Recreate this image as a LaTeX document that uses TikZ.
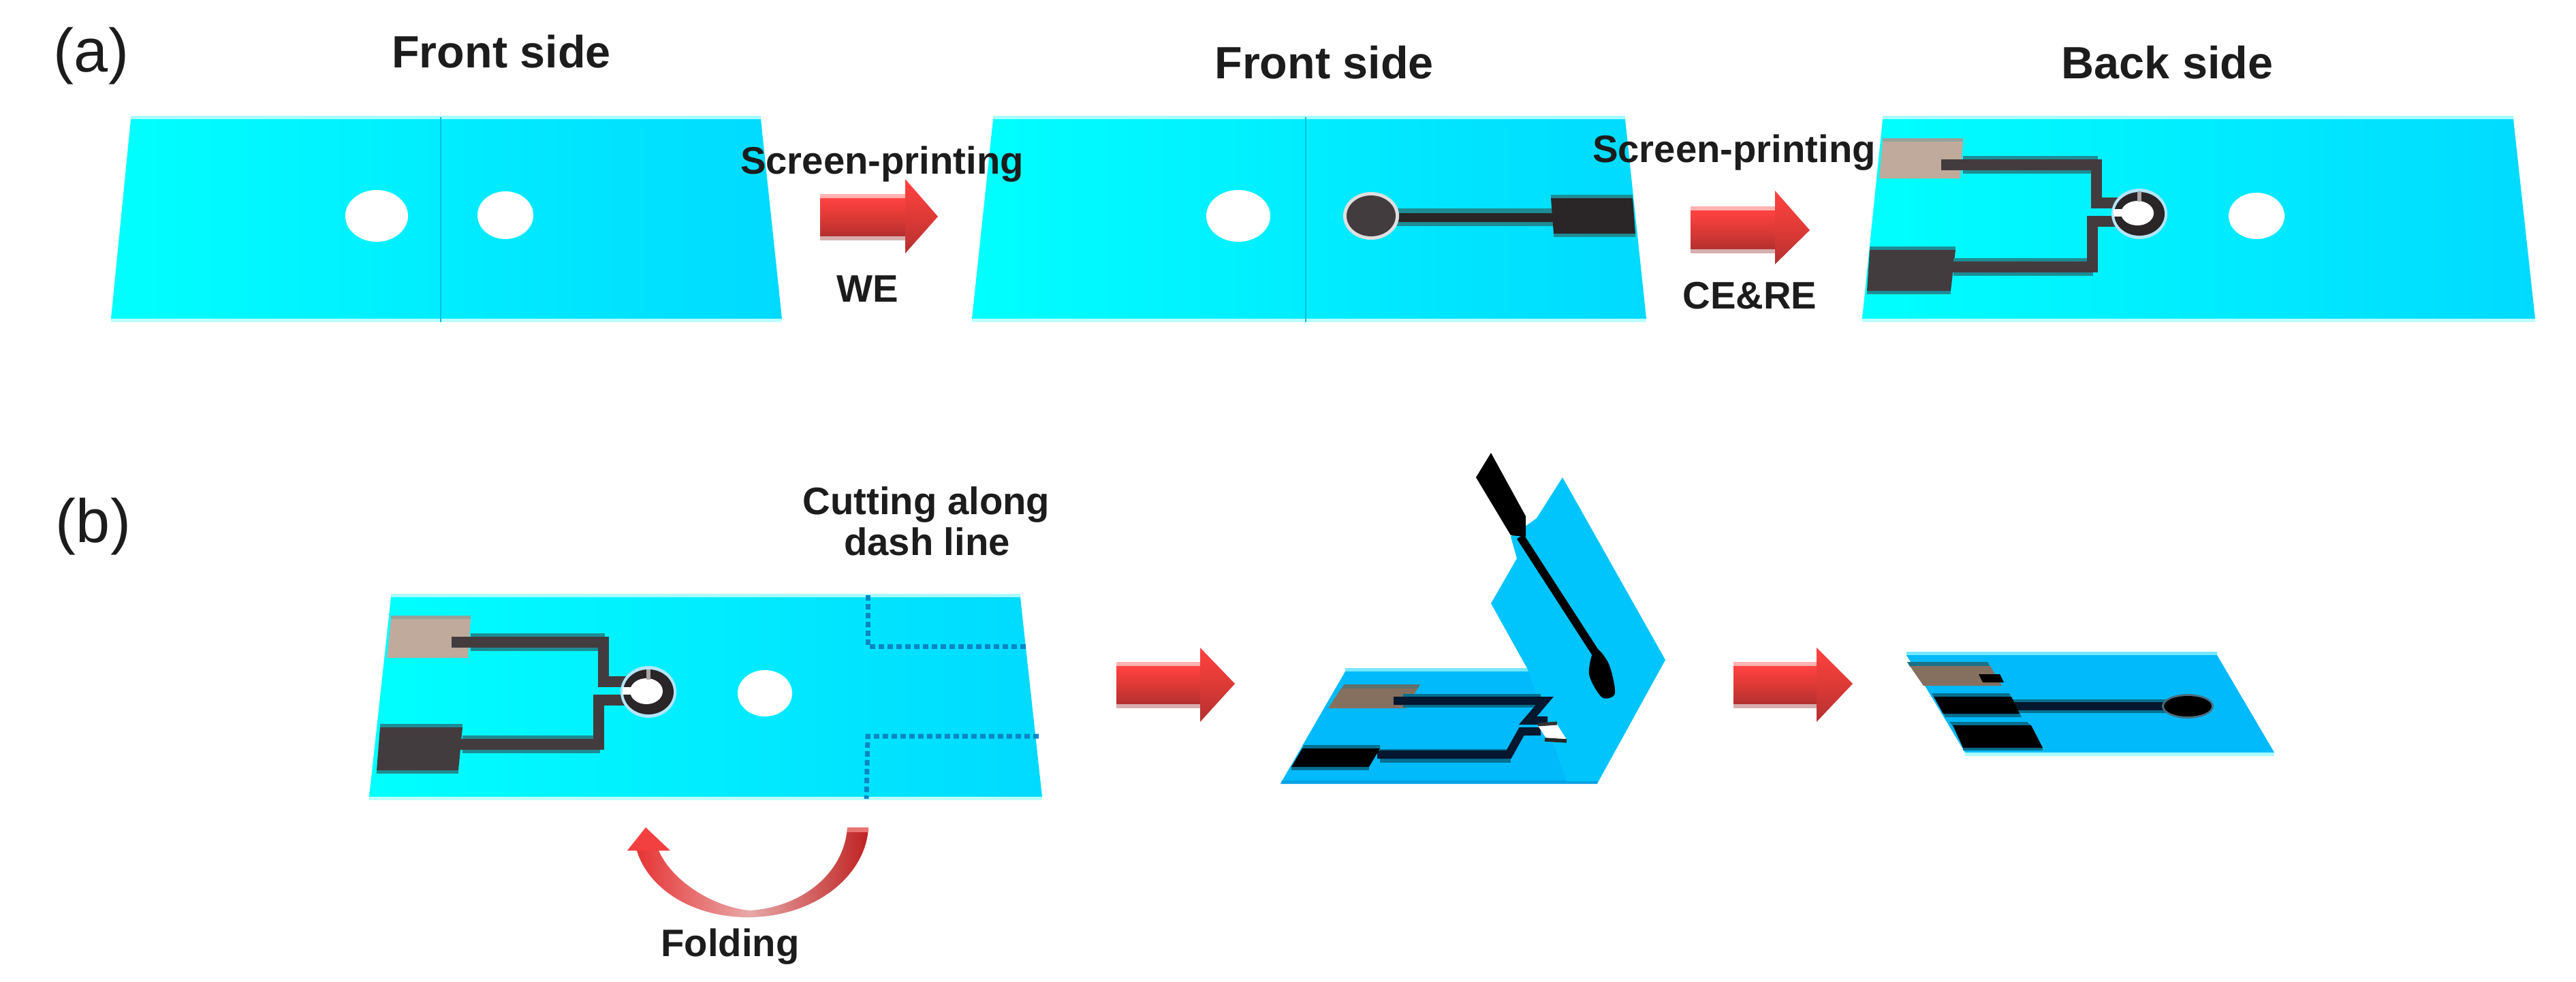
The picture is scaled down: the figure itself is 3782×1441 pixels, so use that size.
\documentclass[tikz,border=0pt]{standalone}
\usepackage{fontspec}
\setmainfont{Liberation Sans}
\definecolor{cyanL}{HTML}{00FFFF}
\definecolor{cyanM}{HTML}{00F2FF}
\definecolor{cyanR}{HTML}{00DAFF}
\definecolor{foldline}{HTML}{00BCE6}
\definecolor{edgeTop}{HTML}{A8FCFF}
\definecolor{edgeBot}{HTML}{BCFFFF}
\definecolor{tanpad}{HTML}{BFAA9C}
\definecolor{darkpad}{HTML}{433C3E}
\definecolor{wepad}{HTML}{2A2526}
\definecolor{tealhalo}{HTML}{1E8C94}
\definecolor{cutdash}{HTML}{0A86C4}
\definecolor{sheetA}{HTML}{00BAFB}
\definecolor{sheetB}{HTML}{00C5FD}
\definecolor{brownpad}{HTML}{85705F}
\definecolor{inktrace}{HTML}{03172E}
\definecolor{inkhalo}{HTML}{05708F}
\definecolor{arrowtop}{HTML}{FF4242}
\definecolor{arrowmid}{HTML}{DE3A36}
\definecolor{arrowbot}{HTML}{B43030}
\definecolor{foldfade}{HTML}{E8A8A8}
\definecolor{folddark}{HTML}{B81E1E}
\definecolor{foldred}{HTML}{E63434}
\definecolor{txt}{HTML}{1C1C1C}
\tikzset{
  x=0.01cm,y=-0.01cm,
  titletext/.style={anchor=base,inner sep=0pt,text=txt,font=\fontsize{18.9}{20}\selectfont\bfseries},
  steptext/.style={anchor=base,inner sep=0pt,text=txt,font=\fontsize{16}{18}\selectfont\bfseries},
  paneltext/.style={anchor=base,inner sep=0pt,text=txt,font=\fontsize{25.6}{28}\selectfont},
  trace/.style={draw=darkpad,line width=0.16cm,line join=miter},
  halo/.style={draw=tealhalo,line width=0.26cm},
  inkline/.style={draw=inktrace,line width=0.12cm,line join=miter},
  inkglow/.style={draw=inkhalo,line width=0.2cm},
  cutline/.style={draw=cutdash,line width=0.07cm,dash pattern=on 0.08cm off 0.05cm},
  hole/.style={fill=white,draw=none},
}
% sheet: top-left x, top-right x, bottom-right x, bottom-left x, top y, bottom y
\newcommand{\cyansheet}[6]{%
  \path[left color=cyanL,middle color=cyanM,right color=cyanR] (#1,#5) -- (#2,#5) -- (#3,#6) -- (#4,#6) -- cycle;
  \fill[edgeTop] (#1,#5-5) -- (#2,#5-5) -- (#2,#5) -- (#1,#5) -- cycle;
  \fill[edgeBot] (#4,#6) -- (#3,#6) -- (#3,#6+5) -- (#4,#6+5) -- cycle;
}
% open ring: centre x, centre y, x radius (cm) and y radius (cm) of the dark ring
\newcommand{\openring}[4]{%
  \fill[white!70!cyan] (#1,#2) ellipse [x radius=#3cm+0.04cm,y radius=#4cm+0.05cm];
  \fill[wepad] (#1,#2) ellipse [x radius=#3cm,y radius=#4cm];
  \fill[white] (#1-3,#2-1) ellipse [x radius=#3cm-0.13cm,y radius=#4cm-0.14cm];
  \fill[white] (#1-38,#2-7) rectangle (#1-10,#2+4);
  \fill[white!55!darkpad] (#1-3,#2-33) rectangle (#1+3,#2-18);
}
% red arrow: shaft left, head x, tip x, shaft top, shaft bottom, head top, head bottom, tip y
\newcommand{\redarrow}[8]{%
  \fill[red!30!white] (#1,#4) rectangle (#2,#4+6);
  \fill[arrowbot!35!white!85!gray] (#1,#5-7) rectangle (#2,#5);
  \path[top color=arrowtop,bottom color=arrowbot,middle color=arrowmid] (#1,#4+6) rectangle (#2+1,#5-7);
  \path[top color=arrowtop,bottom color=arrowmid] (#2,#6) -- (#3,#8) -- (#2,#8) -- cycle;
  \path[top color=arrowmid,bottom color=arrowbot] (#2,#8) -- (#3,#8) -- (#2,#7) -- cycle;
}
\begin{document}
\begin{tikzpicture}
\useasboundingbox (0,0) rectangle (3782,1441);
\fill[white] (0,0) rectangle (3782,1441);

% ---- panel (a), sheet 1
\cyansheet{192}{1117}{1148}{163}{175}{468}
\draw[foldline,line width=0.025cm] (647,172) -- (647,473);
\fill[hole] (553,317) ellipse [x radius=0.46cm,y radius=0.38cm];
\fill[hole] (742,316) ellipse [x radius=0.41cm,y radius=0.35cm];

% ---- panel (a), sheet 2
\cyansheet{1458}{2386}{2417}{1427}{175}{468}
\draw[foldline,line width=0.025cm] (1917,172) -- (1917,473);
\fill[hole] (1818,317) ellipse [x radius=0.47cm,y radius=0.38cm];
\draw[halo] (2040,319) -- (2290,319);
\draw[wepad,line width=0.13cm] (2040,319) -- (2285,319);
\fill[tealhalo] (2277,286) -- (2397,286) -- (2397,292) -- (2277,292) -- cycle;
\fill[tealhalo] (2281,342) -- (2401,342) -- (2401,348) -- (2281,348) -- cycle;
\fill[wepad] (2277,291) -- (2397,291) -- (2401,343) -- (2281,343) -- cycle;
\fill[white!75!gray] (2013,317) ellipse [x radius=0.41cm,y radius=0.35cm];
\fill[darkpad] (2013,317) ellipse [x radius=0.36cm,y radius=0.30cm];

% ---- panel (a), sheet 3
\cyansheet{2764}{3690}{3722}{2734}{175}{468}
\fill[hole] (3313,317) ellipse [x radius=0.41cm,y radius=0.34cm];
\fill[tanpad!75!tealhalo] (2764,203) rectangle (2882,209);
\fill[tanpad] (2764,208) -- (2882,208) -- (2878,262) -- (2759,262) -- cycle;
\fill[tealhalo] (2745,362) rectangle (2871,368);
\fill[tealhalo] (2741,426) rectangle (2864,432);
\fill[darkpad] (2745,367) -- (2871,367) -- (2864,427) -- (2741,427) -- cycle;
\draw[halo] (2882,242) -- (3080,242);
\draw[halo] (2868,392) -- (3073,392);
\draw[trace] (2850,242) -- (3078,242) -- (3078,297.5) -- (3115,297.5);
\draw[trace] (2866,392) -- (3072,392) -- (3072,325) -- (3115,325);
\openring{3141}{314}{0.37}{0.32}

% ---- panel (b), sheet 1
\cyansheet{574}{1498}{1530}{542}{877}{1170}
\fill[tanpad!75!tealhalo] (574,904) rectangle (691,910);
\fill[tanpad] (574,909) -- (691,909) -- (687,966) -- (568,966) -- cycle;
\fill[tealhalo] (558,1063) rectangle (679,1069);
\fill[tealhalo] (553,1130) rectangle (673,1136);
\fill[darkpad] (558,1068) -- (679,1068) -- (673,1131) -- (553,1131) -- cycle;
\draw[halo] (691,943) -- (888,943);
\draw[halo] (679,1093) -- (881,1093);
\draw[trace] (663,943) -- (886,943) -- (886,1001) -- (928,1001);
\draw[trace] (675,1093) -- (879,1093) -- (879,1028) -- (928,1028);
\openring{952}{1016}{0.37}{0.33}
\fill[hole] (1123,1018) ellipse [x radius=0.40cm,y radius=0.34cm];
\draw[cutline] (1274,874) -- (1274,949) -- (1510,949);
\draw[cutline] (1525,1081) -- (1274,1081) -- (1272,1173);

% ---- panel (b), folding arrow
\path[left color=foldfade,middle color=folddark,right color=folddark!85!foldred]
  (1275,1215) .. controls (1272,1280) and (1205,1345) .. (1100,1347)
  -- (1100,1337) .. controls (1180,1332) and (1240,1280) .. (1244,1215) -- cycle;
\fill[arrowmid!70!white] (1244,1215) rectangle (1275,1222);
\path[left color=foldred,middle color=folddark!50!foldred,right color=foldfade]
  (935,1249) .. controls (950,1300) and (1010,1347) .. (1100,1347)
  -- (1100,1337) .. controls (1040,1330) and (985,1290) .. (967,1249) -- cycle;
\fill[arrowtop!95!black] (948,1215) -- (984,1249) -- (921,1249) -- cycle;

% ---- panel (b), sheet 2: lower leaf, then raised leaf
\fill[edgeTop!70!sheetA] (1975,981) -- (2245,981) -- (2245,988) -- (1975,988) -- cycle;
\fill[sheetA] (1975,986) -- (2245,986) -- (2347,1147) -- (1882,1147) -- cycle;
\fill[cyan!60!sheetB] (1882,1146) -- (2347,1146) -- (2345,1151) -- (1880,1151) -- cycle;
\fill[sheetB] (2294,701) -- (2445,969) -- (2347,1147) -- (2300,1147) -- (2243,983)
  -- (2189,886) -- (2227,820) -- (2218,788) -- (2256,761) -- cycle;
\fill[brownpad!70!inkhalo] (1973,1005) -- (2085,1005) -- (2081,1012) -- (1969,1012) -- cycle;
\fill[brownpad] (1969,1011) -- (2081,1011) -- (2065,1040) -- (1950,1040) -- cycle;
\draw[inkglow] (2060,1029) -- (2262,1029);
\draw[inkglow] (2026,1110) -- (2218,1110);
\draw[inkline] (2046,1029) -- (2268,1029) -- (2243,1058) -- (2272,1058);
\draw[inkline] (2022,1108) -- (2215,1108) -- (2234,1074) -- (2262,1074);
\fill[inkhalo] (1914,1094) -- (2026,1094) -- (2026,1100) -- (1912,1100) -- cycle;
\fill[inkhalo] (1896,1125) -- (2010,1125) -- (2010,1131) -- (1896,1131) -- cycle;
\fill[black] (1912,1099) -- (2026,1099) -- (2010,1126) -- (1896,1126) -- cycle;
\fill[white] (2258,1066) -- (2285,1062) -- (2300,1086) -- (2270,1084) -- cycle;
\draw[black!80,line width=0.05cm] (2258,1064) -- (2286,1062);
\draw[black!85,line width=0.055cm] (2268,1086) -- (2300,1088);
\draw[black,line width=0.12cm] (2232,788) -- (2342,958);
\fill[black] (2189,665) -- (2240,758) -- (2240,788) -- (2218,786) -- (2167,701) -- cycle;
\fill[black] plot[smooth cycle] coordinates {(2342,952) (2362,975) (2371,1018) (2352,1024) (2333,990)};

% ---- panel (b), sheet 3
\fill[edgeTop!70!sheetA] (2799,957) rectangle (3255,963);
\fill[sheetA] (2799,962) -- (3255,962) -- (3339,1105) -- (2885,1105) -- cycle;
\fill[edgeTop] (2885,1105) rectangle (3339,1110);
\fill[inkhalo!80!brownpad] (2800,972) -- (2918,972) -- (2922,979) -- (2804,979) -- cycle;
\fill[brownpad] (2804,978) -- (2922,978) -- (2939,1007) -- (2824,1007) -- cycle;
\fill[black] (2905,990) -- (2936,990) -- (2942,1002) -- (2911,1002) -- cycle;
\draw[inkglow] (2955,1037) -- (3180,1037);
\draw[inkline] (2955,1037) -- (3180,1037);
\fill[inkhalo] (2836,1018) -- (2950,1018) -- (2953,1024) -- (2839,1024) -- cycle;
\fill[inkhalo] (2853,1047) -- (2965,1047) -- (2968,1053) -- (2856,1053) -- cycle;
\fill[black] (2839,1023) -- (2953,1023) -- (2965,1048) -- (2853,1048) -- cycle;
\fill[inkhalo] (2862,1060) -- (2976,1060) -- (2982,1066) -- (2867,1066) -- cycle;
\fill[inkhalo] (2882,1097) rectangle (2999,1102);
\fill[black] (2867,1065) -- (2982,1065) -- (2999,1098) -- (2882,1098) -- cycle;
\fill[black!55!cyan] (3212,1037) ellipse [x radius=0.38cm,y radius=0.18cm];
\fill[black] (3212,1037) ellipse [x radius=0.35cm,y radius=0.15cm];

% ---- red process arrows
\redarrow{1204}{1329}{1377}{285}{353}{263}{372}{318}
\redarrow{2482}{2606}{2657}{303}{372}{280}{388}{338}
\redarrow{1639}{1762}{1813}{972}{1040}{951}{1060}{1004}
\redarrow{2545}{2667}{2720}{972}{1040}{951}{1060}{1004}

% ---- texts
\node[paneltext] (lblA) at (134,105) {(a)};
\node[paneltext] (lblB) at (137,796) {(b)};
\node[titletext] (front1) at (736,99) {Front side};
\node[titletext] (front2) at (1944,115) {Front side};
\node[titletext] (back) at (3182,115) {Back side};
\node[steptext] (print1) at (1295,255) {Screen-printing};
\node[steptext] (print2) at (2546,238) {Screen-printing};
\node[steptext] (we) at (1274,443) {WE};
\node[steptext] (cere) at (2569,453) {CE\&RE};
\node[steptext] (cut1) at (1360,755) {Cutting along};
\node[steptext] (cut2) at (1361,815) {dash line};
\node[steptext] (fold) at (1072,1404) {Folding};
\end{tikzpicture}
\end{document}
